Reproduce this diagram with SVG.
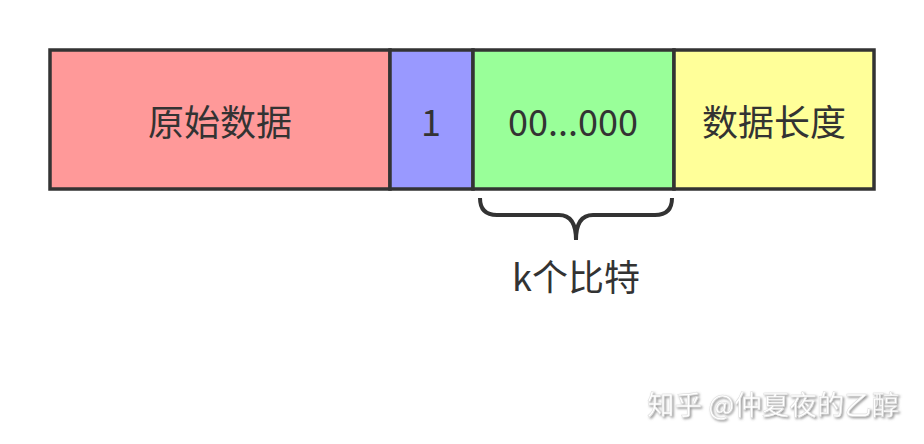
<svg xmlns="http://www.w3.org/2000/svg" width="924" height="444" viewBox="0 0 924 444">
<defs>
<filter id="sh" x="-5%" y="-20%" width="110%" height="150%"><feDropShadow dx="1.5" dy="1.5" stdDeviation="0.8" flood-color="#888" flood-opacity="0.9"/></filter>
</defs>
<style>
.cell{stroke:#333;stroke-width:3.5}
.t{font-family:"Noto Sans CJK SC","Noto Sans",sans-serif;font-size:36px;fill:#333;text-anchor:middle}
.wm{font-family:"Noto Sans CJK SC",sans-serif;font-size:27.5px;text-anchor:start;fill:#fff;stroke:#ddd;stroke-width:0.5}
</style>
<rect width="924" height="444" fill="#fff"/>
<g id="raw"><rect class="cell" x="50" y="50" width="340" height="139" fill="#ff9999"/><text class="t" x="220" y="136">原始数据</text></g>
<g id="one"><rect class="cell" x="390" y="50" width="83" height="139" fill="#9999ff"/><text class="t" x="431" y="136">1</text></g>
<g id="zeros"><rect class="cell" x="473" y="50" width="201" height="139" fill="#99ff99"/><text class="t" x="573" y="136">00...000</text></g>
<g id="len"><rect class="cell" x="674" y="50" width="200" height="139" fill="#ffff99"/><text class="t" x="774" y="136">数据长度</text></g>
<g id="connectors">
<path d="M480,198 Q480,215 497,215 L559,215 Q576,215 576,240 Q576,215 593,215 L655,215 Q672,215 672,198" fill="none" stroke="#333" stroke-width="4"/>
</g>
<g id="brace-label"><text class="t" x="576" y="291">k个比特</text></g>
<g id="watermark">
<text class="wm" x="647" y="415" filter="url(#sh)">知乎 @仲夏夜的乙醇</text>
</g>
</svg>
